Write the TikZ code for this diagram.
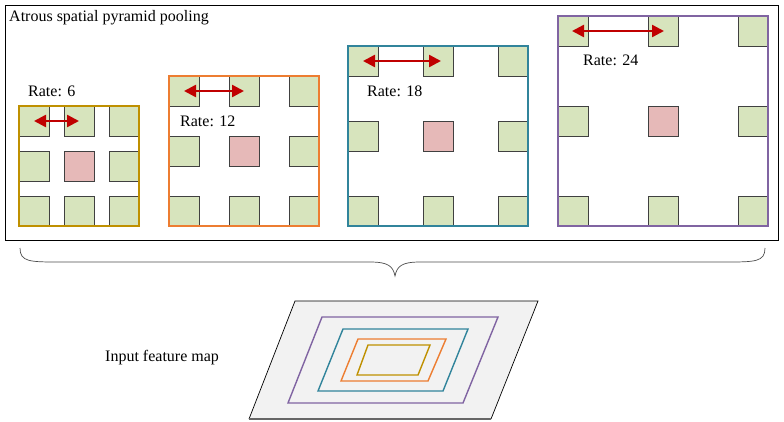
\documentclass[tikz,border=0pt]{standalone}
\usepackage{fontspec}
\setmainfont{Liberation Serif}
\usetikzlibrary{arrows.meta}
\definecolor{cgold}{HTML}{BF9000}
\definecolor{corange}{HTML}{ED7D31}
\definecolor{cteal}{HTML}{31849B}
\definecolor{cpurple}{HTML}{8064A2}
\definecolor{cgreen}{HTML}{D7E4BD}
\definecolor{cpink}{HTML}{E6B9B8}
\definecolor{cred}{HTML}{C00000}
\begin{document}
\begin{tikzpicture}[x=1pt,y=-1pt,
  sq/.style={draw=black!75,fill=cgreen,line width=0.8pt},
  sqc/.style={draw=black!75,fill=cpink,line width=0.8pt},
  rate/.style={draw=cred,line width=2.5pt,{Triangle[length=12pt,width=12pt]}-{Triangle[length=12pt,width=12pt]}},
  lbl/.style={anchor=west,inner sep=0pt,font=\fontsize{16}{18}\selectfont},
  frame/.style={line width=1.4pt}]
\useasboundingbox (0,0) rectangle (784,421);
\draw[line width=1pt] (5,5) rectangle (778,240);
\node[lbl] (title) at (9,18) {Atrous spatial pyramid pooling};
\foreach \x/\y/\s/\c/\n in {19/106/45/cgold/a,169/76/60/corange/b,348/46/75/cteal/c,558/16/90/cpurple/d}{
  \foreach \i in {0,1,2}{\foreach \j in {0,1,2}{
    \ifnum\i=1 \ifnum\j=1
      \draw[sqc] ({\x+\i*\s},{\y+\j*\s}) rectangle ++(30,30);
    \else \draw[sq] ({\x+\i*\s},{\y+\j*\s}) rectangle ++(30,30); \fi
    \else \draw[sq] ({\x+\i*\s},{\y+\j*\s}) rectangle ++(30,30); \fi
  }}
  \draw[frame,draw=\c] (\x,\y) rectangle ({\x+2*\s+30},{\y+2*\s+30});
}
\coordinate (a1) at (34,121); \coordinate (a2) at (79,121);
\coordinate (b1) at (184,91); \coordinate (b2) at (244,91);
\coordinate (c1) at (363,61); \coordinate (c2) at (441,61);
\coordinate (d1) at (572,31); \coordinate (d2) at (664,31);
\draw[rate] (a1) -- (a2);
\draw[rate] (b1) -- (b2);
\draw[rate] (c1) -- (c2);
\draw[rate] (d1) -- (d2);
\node[lbl] (r6) at (28,91) {Rate: 6};
\node[lbl] (r12) at (180,121) {Rate: 12};
\node[lbl] (r18) at (367,91) {Rate: 18};
\node[lbl] (r24) at (583,60) {Rate: 24};
\draw[line width=0.7pt,black!70] (20,248) .. controls (20,262) and (30,262) .. (60,262)
  -- (370,262) .. controls (388,262) and (393,266) .. (395,276)
  .. controls (397,266) and (402,262) .. (420,262) -- (725,262)
  .. controls (755,262) and (765,262) .. (765,248);
\fill[black!5] (249,419) -- (295,301) -- (538,301) -- (491,419) -- cycle;
\draw[line width=0.7pt] (249,419) -- (295,301) -- (538,301) -- (491,419);
\draw[line width=1.4pt,black!60] (249,419) -- (491,419);
\draw[frame,cpurple] (288,403) -- (322,317) -- (498,317) -- (463,403) -- cycle;
\draw[frame,cteal] (318,391) -- (343,329) -- (468,329) -- (443,391) -- cycle;
\draw[frame,corange] (341,381) -- (358,339) -- (446,339) -- (428,381) -- cycle;
\draw[frame,cgold] (357,375) -- (368,345) -- (430,345) -- (418,375) -- cycle;
\node[lbl] (ifm) at (105,358) {Input feature map};
\end{tikzpicture}
\end{document}
